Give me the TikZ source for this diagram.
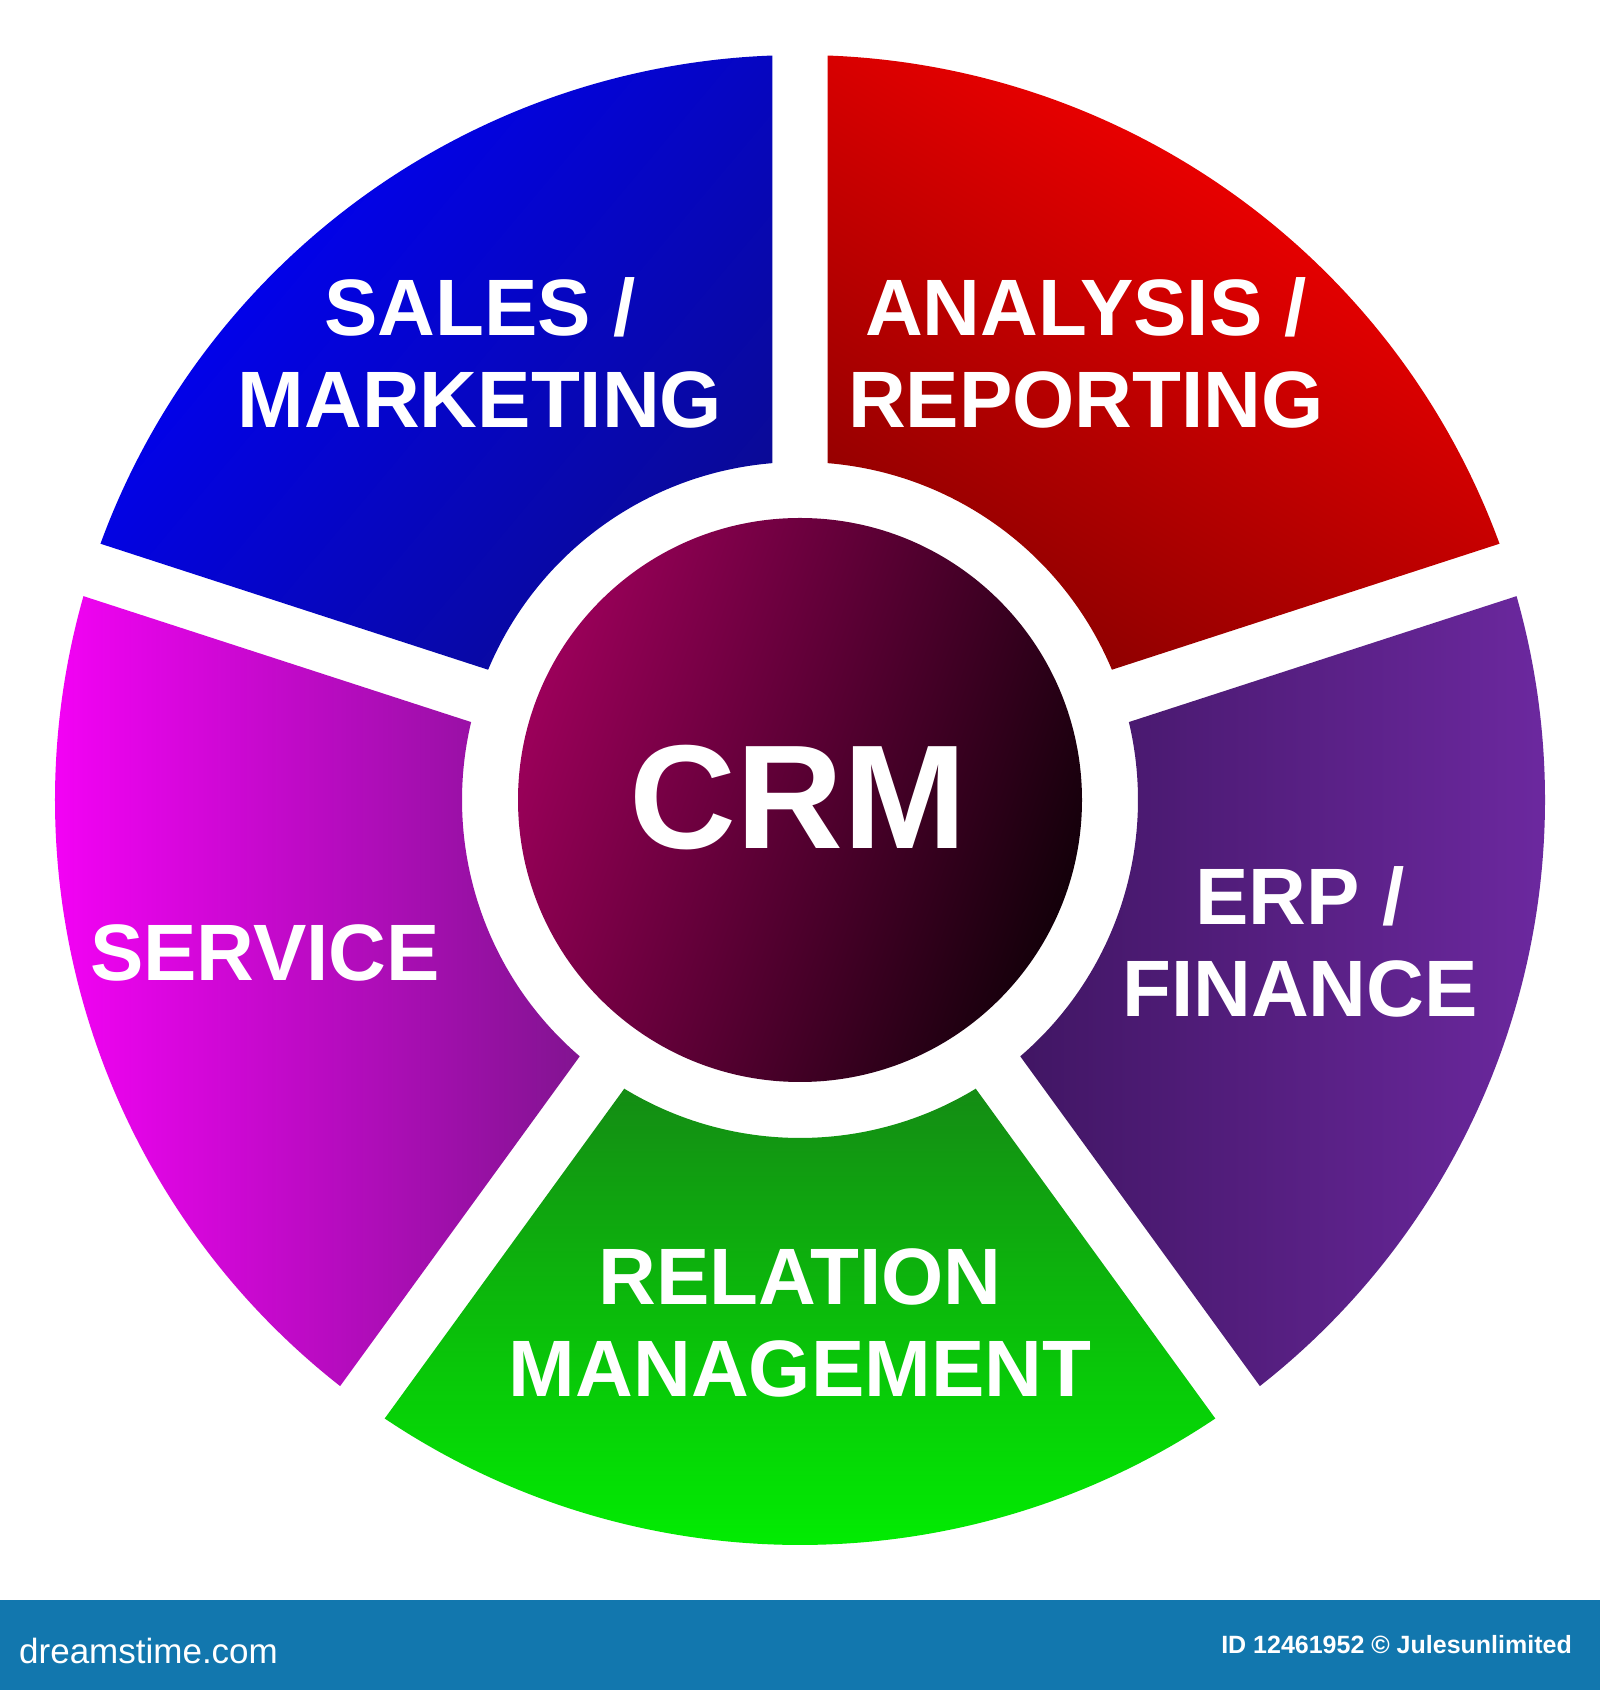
\documentclass[tikz,border=0pt]{standalone}
\usepackage{fontspec}
\setmainfont{Liberation Sans}
\definecolor{blueout}{RGB}{0,0,255}
\definecolor{bluein}{RGB}{10,10,150}
\definecolor{redout}{RGB}{255,0,0}
\definecolor{redin}{RGB}{140,0,0}
\definecolor{purpout}{RGB}{112,42,165}
\definecolor{purpin}{RGB}{65,22,100}
\definecolor{greenout}{RGB}{0,245,0}
\definecolor{greenin}{RGB}{20,140,20}
\definecolor{magout}{RGB}{255,0,255}
\definecolor{magin}{RGB}{130,20,145}
\definecolor{crmout}{RGB}{155,0,90}
\definecolor{crmin}{RGB}{20,0,10}
\definecolor{bannerblue}{RGB}{18,119,174}
\begin{document}
\begin{tikzpicture}[x=1pt, y=1pt,
    seglabel/.style={text=white, font=\fontsize{80}{92}\selectfont\bfseries, align=center, inner sep=0pt},
    crmlabel/.style={text=white, font=\fontsize{148}{150}\selectfont\bfseries, inner sep=0pt},
    bannertext/.style={text=white, inner sep=0pt}]
    \useasboundingbox (0,0) rectangle (1600,1690);
    \fill[white] (0,0) rectangle (1600,1690);
    \begin{scope}[shift={(800,890)}]
    % five sectors, white gaps of 55
    \shade[top color=blueout, bottom color=bluein, shading angle=50] (92.12:745) arc[start angle=92.12, end angle=159.88, radius=745] -- (157.33:338) arc[start angle=157.33, end angle=94.67, radius=338] -- cycle;
    \shade[top color=redout, bottom color=redin, shading angle=-30] (20.12:745) arc[start angle=20.12, end angle=87.88, radius=745] -- (85.33:338) arc[start angle=85.33, end angle=22.67, radius=338] -- cycle;
    \shade[top color=purpout, bottom color=purpin, shading angle=-90] (-51.88:745) arc[start angle=-51.88, end angle=15.88, radius=745] -- (13.33:338) arc[start angle=13.33, end angle=-49.33, radius=338] -- cycle;
    \shade[top color=greenin, bottom color=greenout] (-123.88:745) arc[start angle=-123.88, end angle=-56.12, radius=745] -- (-58.67:338) arc[start angle=-58.67, end angle=-121.33, radius=338] -- cycle;
    \shade[top color=magout, bottom color=magin, shading angle=90] (164.12:745) arc[start angle=164.12, end angle=231.88, radius=745] -- (229.33:338) arc[start angle=229.33, end angle=166.67, radius=338] -- cycle;
    % hub
    \shade[top color=crmout, bottom color=crmin, shading angle=70] (0,0) circle (282);
    \node[crmlabel] (crm) at (-2,2) {CRM};
    \node[seglabel] (sales) at (-320,447) {SALES /\\MARKETING};
    \node[seglabel] (analysis) at (286,447) {ANALYSIS /\\REPORTING};
    \node[seglabel] (erp) at (500,-142) {ERP /\\FINANCE};
    \node[seglabel] (service) at (-535,-153) {SERVICE};
    \node[seglabel] (relation) at (0,-523) {RELATION\\MANAGEMENT};
    \end{scope}
    % banner
    \fill[bannerblue] (0,0) rectangle (1600,90);
    \node[bannertext, anchor=base west, font=\fontsize{35}{40}\selectfont] (site) at (19,27) {dreamstime.com};
    \node[bannertext, anchor=base east, font=\fontsize{25}{28}\selectfont\bfseries] (imgid) at (1572,36) {ID 12461952 © Julesunlimited};
\end{tikzpicture}
\end{document}
